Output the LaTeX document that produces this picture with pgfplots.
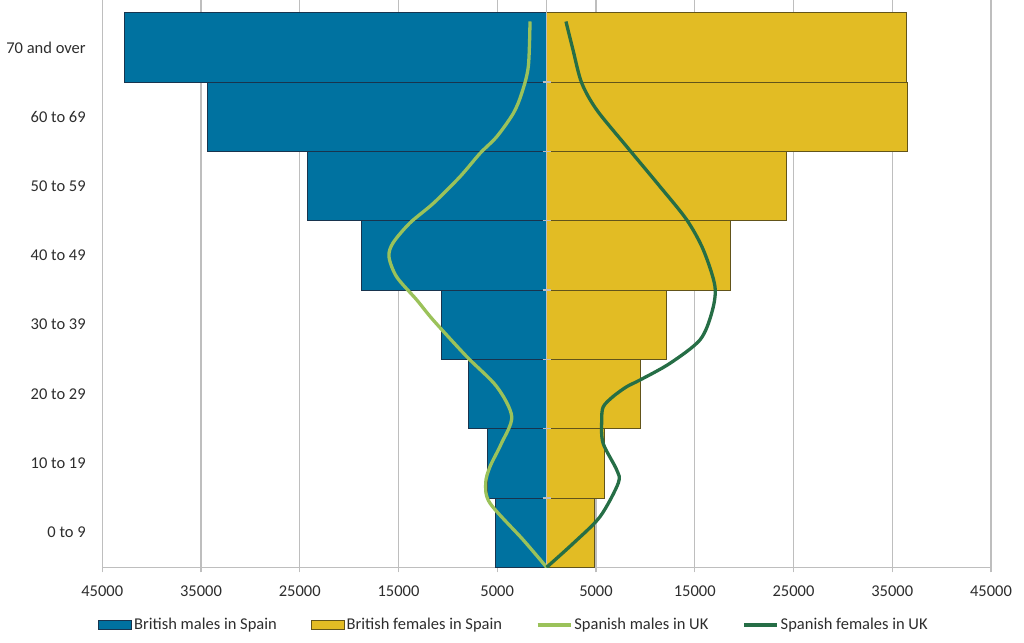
\documentclass[border=0pt]{standalone}
\usepackage{pgfplots}
\pgfplotsset{compat=1.18}
\usepackage{pgfplotstable}
\usepackage{fontspec}
\setmainfont{Carlito}

\definecolor{maleblue}{RGB}{0,114,160}
\definecolor{maleedge}{RGB}{24,52,78}
\definecolor{femyellow}{RGB}{226,188,36}
\definecolor{femedge}{RGB}{98,84,26}
\definecolor{ukmale}{RGB}{155,194,90}
\definecolor{ukfemale}{RGB}{38,110,70}
\definecolor{gridgray}{RGB}{190,190,190}
\definecolor{labeltext}{RGB}{45,45,45}

% British residents in Spain by age band (males negative)
\pgfplotstableread{
cat male female
0 -5160 4830
1 -5970 5810
2 -7900 9490
3 -10690 12160
4 -18720 18570
5 -24260 24240
6 -34380 36500
7 -42790 36390
}\britishinspain

\newcommand{\lblfont}{\fontsize{16.5}{19}\selectfont}

\begin{document}
\begin{tikzpicture}
\begin{axis}[
  name=ax,
  scale only axis,
  width=888.8pt, height=567.3pt,
  xmin=-45000, xmax=45000,
  ymin=-0.5, ymax=7.683,
  axis x line*=bottom, axis y line*=left,
  x axis line style={gridgray, line width=1.3pt},
  y axis line style={draw=none},
  scaled x ticks=false,
  xtick={-45000,-35000,-25000,-15000,-5000,5000,15000,25000,35000,45000},
  xticklabels={45000,35000,25000,15000,5000,5000,15000,25000,35000,45000},
  ytick={0,...,7},
  yticklabels={0 to 9,10 to 19,20 to 29,30 to 39,40 to 49,50 to 59,60 to 69,70 and over},
  tick align=outside,
  major tick length=5pt,
  xtick style={gridgray, line width=1.3pt},
  ytick style={draw=none},
  xmajorgrids,
  major grid style={gridgray, line width=1.3pt},
  ticklabel style={font=\lblfont, text=labeltext},
  xticklabel style={yshift=-10pt},
  yticklabel style={xshift=-8pt},
  legend columns=4,
  legend style={
    at={(axis description cs:-0.0045,-0.1017)}, anchor=west,
    draw=none, fill=none, inner sep=0pt,
    font=\lblfont, text=labeltext,
    /tikz/every even column/.append style={column sep=32pt},
    nodes={inner sep=2pt},
  },
  legend cell align=left,
]

\addplot[xbar, bar width=1, bar shift=0pt, fill=maleblue, draw=maleedge, line width=0.8pt,
  legend image code/.code={\draw[fill=maleblue, draw=maleedge, line width=0.8pt] (0pt,-4.75pt) rectangle (33pt,4.75pt);}]
  table[x=male, y=cat] {\britishinspain};
\addlegendentry{British males in Spain}

\addplot[xbar, bar width=1, bar shift=0pt, fill=femyellow, draw=femedge, line width=0.8pt,
  legend image code/.code={\draw[fill=femyellow, draw=femedge, line width=0.8pt] (0pt,-4.75pt) rectangle (33pt,4.75pt);}]
  table[x=female, y=cat] {\britishinspain};
\addlegendentry{British females in Spain}

% vertical axis at zero with small marks between the age bands
\draw[gridgray, line width=1.3pt] (axis cs:0,-0.5) -- (axis cs:0,7.683);
\pgfplotsinvokeforeach{0.5,1.5,2.5,3.5,4.5,5.5,6.5}{
  \draw[gridgray, line width=1.3pt] ([xshift=-4pt]axis cs:0,#1) -- ([xshift=4pt]axis cs:0,#1);
}

% Spanish residents in the UK (males negative)
\addplot[smooth, ukmale, line width=3.3pt,
  legend image code/.code={\draw[ukmale, line width=3.3pt] (0pt,0pt) -- (33pt,0pt);}]
  coordinates {
  (0,-0.5) (-2360,-0.106) (-5730,0.424) (-6170,0.712) (-5730,0.952)
  (-4600,1.28) (-3530,1.673) (-5050,2.106) (-8090,2.539) (-11500,3.069)
  (-13150,3.357) (-15180,3.689) (-15960,3.978) (-15550,4.180) (-13830,4.468)
  (-11470,4.750) (-8770,5.134) (-6740,5.471) (-5050,5.711) (-3370,6.048)
  (-2520,6.337) (-1850,6.724) (-1680,7.373)
  };
\addlegendentry{Spanish males in UK}

\addplot[smooth, ukfemale, line width=3.3pt,
  legend image code/.code={\draw[ukfemale, line width=3.3pt] (0pt,0pt) -- (33pt,0pt);}]
  coordinates {
  (0,-0.5) (2700,-0.154) (5410,0.230) (7260,0.716) (7100,0.904)
  (5710,1.294) (5580,1.626) (5740,1.816) (6720,1.962) (8110,2.105)
  (9460,2.202) (12490,2.442) (15530,2.780) (16720,3.170) (17050,3.55)
  (15870,4.079) (14190,4.512) (11480,4.992) (8110,5.569) (5070,6.099)
  (3550,6.488) (2670,6.965) (1960,7.373)
  };
\addlegendentry{Spanish females in UK}

\end{axis}
\pgfresetboundingbox
\path[use as bounding box] ([xshift=-102.2pt, yshift=-74.7pt]ax.south west) rectangle ([xshift=33pt]ax.north east);
\end{tikzpicture}
\end{document}
